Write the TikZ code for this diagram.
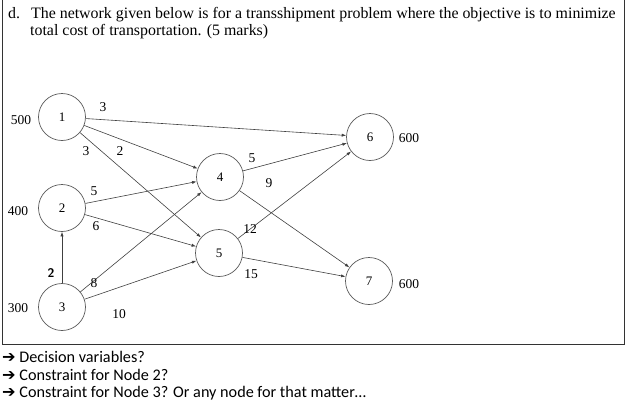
\documentclass[tikz,border=0pt]{standalone}
\usepackage{fontspec}
\setmainfont{Liberation Serif}
\newfontfamily\carl{Carlito}
\newfontfamily\dejavu{DejaVu Sans}
\usetikzlibrary{arrows.meta}
\begin{document}
\begin{tikzpicture}[x=1pt,y=-1pt,
  nd/.style={circle,draw=black!65,line width=0.7pt,minimum size=47pt,inner sep=0pt,font=\fontsize{13}{15}\selectfont},
  lab/.style={font=\fontsize{13.5}{15}\selectfont,inner sep=0pt},
  arc/.style={draw=black!75,line width=0.6pt,-{Latex[length=4.5pt,width=3.2pt]}},
  q/.style={anchor=west,font=\carl\fontsize{16.2}{18}\selectfont,inner sep=0pt}]
\useasboundingbox (0,0) rectangle (627,408);
\draw[line width=0.8pt,black!80] (2,-2) rectangle (624,344);
\node[anchor=base west,inner sep=0pt,font=\fontsize{15.9}{18}\selectfont] (t1) at (8,18) {d.\hspace{11pt}The network given below is for a transshipment problem where the objective is to minimize};
\node[anchor=base west,inner sep=0pt,font=\fontsize{15.9}{18}\selectfont] (t2) at (30,35) {total cost of transportation. (5 marks)};
\node[nd] (n1) at (62,117) {1};
\node[nd] (n2) at (62,208) {2};
\node[nd] (n3) at (62,307) {3};
\node[nd] (n4) at (220,177) {4};
\node[nd] (n5) at (219,253) {5};
\node[nd] (n6) at (370,137) {6};
\node[nd] (n7) at (369,281) {7};
\draw[arc] (n1) -- (n6);
\draw[arc] (n1) -- (n4);
\draw[arc] (n1) -- (n5);
\draw[arc] (n2) -- (n4);
\draw[arc] (n2) -- (n5);
\draw[arc] (n3) -- (n2);
\draw[arc] (n3) -- (n4);
\draw[arc] (n3) -- (n5);
\draw[arc] (n4) -- (n6);
\draw[arc] (n4) -- (n7);
\draw[arc] (n5) -- (n6);
\draw[arc] (n5) -- (n7);
\node[lab] (s1) at (21,120) {500};
\node[lab] (s2) at (18,211) {400};
\node[lab] (s3) at (18,308) {300};
\node[lab] (d6) at (409,138) {600};
\node[lab] (d7) at (409,284) {600};
\node[lab] (c16) at (103,107) {3};
\node[lab] (c14) at (86,151) {3};
\node[lab] (c15) at (120,151) {2};
\node[lab] (c24) at (94,191) {5};
\node[lab] (c25) at (96,226) {6};
\node[lab,font=\sffamily\bfseries\fontsize{12.5}{14}\selectfont] (c32) at (51,273) {2};
\node[lab] (c34) at (94,283) {8};
\node[lab] (c35) at (119,314) {10};
\node[lab] (c46) at (252,158) {5};
\node[lab] (c47) at (269,183) {9};
\node[lab] (c56) at (250,229) {12};
\node[lab] (c57) at (251,274) {15};
\node[q] (q1) at (2,357) {{\dejavu ➔} Decision variables?};
\node[q] (q2) at (2,375) {{\dejavu ➔} Constraint for Node 2?};
\node[q] (q3) at (2,393) {{\dejavu ➔} Constraint for Node 3? Or any node for that matter…};
\end{tikzpicture}
\end{document}
